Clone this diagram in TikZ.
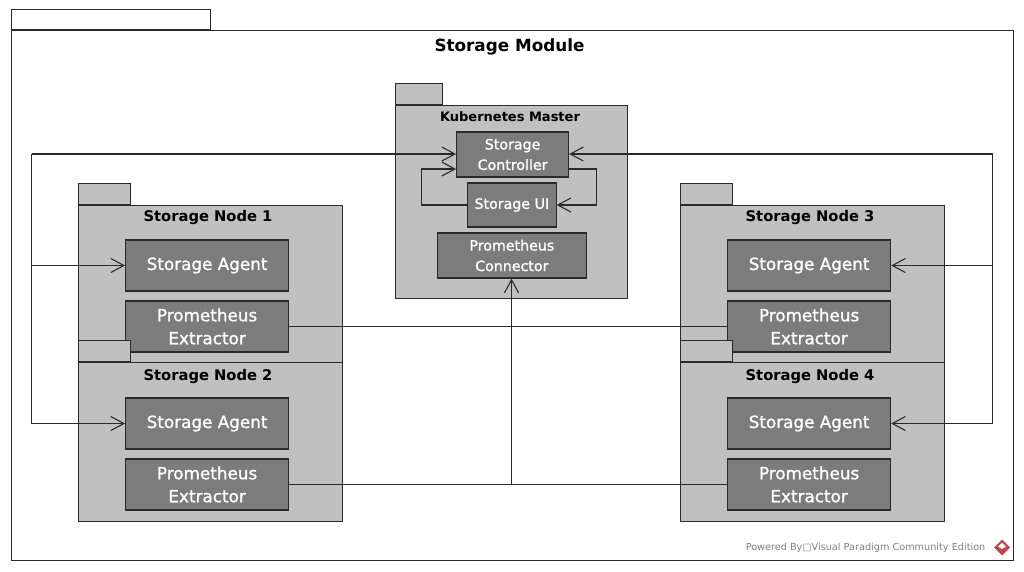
\documentclass[tikz,border=0pt]{standalone}
\usepackage{fontspec}
\setmainfont{DejaVu Sans}
\newfontfamily\semibold[FakeBold=1.2]{DejaVu Sans}
\usetikzlibrary{arrows.meta}
\definecolor{pkg}{HTML}{C0C0C0}
\definecolor{comp}{HTML}{7C7C7C}
\definecolor{ln}{HTML}{2A2A2A}
\definecolor{vpred}{HTML}{C0474F}
\tikzset{
 pkgbody/.style={draw=ln,fill=pkg,line width=1.2pt},
 compbox/.style={draw=ln,fill=comp,line width=1.2pt,text=white,align=center,inner sep=0pt},
 compbig/.style={compbox,font=\fontsize{16.8}{23}\selectfont\semibold},
 compsmall/.style={compbox,font=\fontsize{14.2}{20.5}\selectfont\semibold},
 pkgtitle/.style={font=\fontsize{#1}{#1}\selectfont\bfseries,text=black,inner sep=0pt,anchor=center},
 conn/.style={draw=ln,line width=1.1pt},
 arr/.style={conn,-{Straight Barb[length=13pt,width=14pt,line width=1.1pt]}},
 lbl/.style={inner sep=0pt}
}
\newcommand{\comp}[7]{\node[#7,minimum width=#4pt-#2pt,minimum height=#5pt-#3pt,anchor=north west] (#1) at (#2,#3-.6) {#6};}
\newcommand{\pack}[7]{% name x1 tabright tabtop bodytop x2 y2
 \draw[pkgbody] (#2+.6,#5) rectangle (#3+.6,#4+.6);
 \node[pkgbody,inner sep=0pt,minimum width=#6pt-#2pt,minimum height=#7pt-#5pt,anchor=north west] (#1) at (#2,#5) {};
}
\begin{document}
\begin{tikzpicture}[x=1pt,y=-1pt]
\useasboundingbox (0,0) rectangle (1024,572);
\fill[white] (0,0) rectangle (1024,572);
% outer package
\draw[draw=ln,line width=1.2pt] (11.6,30) rectangle (210.6,9.6);
\node[draw=ln,line width=1.2pt,inner sep=0pt,minimum width=1002pt,minimum height=530pt,anchor=north west] (outer) at (11,30) {};
\node[pkgtitle=16.8] (outert) at (509.5,46.5) {Storage Module};
% Kubernetes master
\pack{kube}{395}{441.5}{83}{105}{627}{298}
\node[pkgtitle=13] (kubet) at (510,117) {Kubernetes Master};
\comp{ctrl}{456}{132}{568}{177}{Storage\\Controller}{compsmall}
\comp{ui}{467}{183}{555.5}{227}{Storage UI}{compsmall}
\comp{pconn}{437}{233}{585.5}{278}{Prometheus\\Connector}{compsmall}
% node 1
\pack{n1}{78}{130}{183}{205}{342}{362}
\node[pkgtitle=14.7] (n1t) at (208,218) {Storage Node 1};
\comp{a1}{125}{240}{288}{291}{Storage Agent}{compbig}
\comp{e1}{125}{301}{288}{352}{Prometheus\\Extractor}{compbig}
% node 2
\pack{n2}{78}{130}{340}{362}{342}{521}
\node[pkgtitle=14.7] (n2t) at (208,376) {Storage Node 2};
\comp{a2}{125}{398}{288}{449}{Storage Agent}{compbig}
\comp{e2}{125}{459}{288}{510}{Prometheus\\Extractor}{compbig}
% node 3
\pack{n3}{680}{732}{183}{205}{944}{362}
\node[pkgtitle=14.7] (n3t) at (810,218) {Storage Node 3};
\comp{a3}{727}{240}{890}{291}{Storage Agent}{compbig}
\comp{e3}{727}{301}{890}{352}{Prometheus\\Extractor}{compbig}
% node 4
\pack{n4}{680}{732}{340}{362}{944}{521}
\node[pkgtitle=14.7] (n4t) at (810,376) {Storage Node 4};
\comp{a4}{727}{398}{890}{449}{Storage Agent}{compbig}
\comp{e4}{727}{459}{890}{510}{Prometheus\\Extractor}{compbig}
% free coordinates of the buses
\coordinate (lbus) at (31.5,154);
\coordinate (rbus) at (992.5,154);
% controller buses
\draw[arr] (lbus) -- (ctrl.west |- lbus);
\draw[arr] (rbus) -- (ctrl.east |- rbus);
\draw[conn] (lbus) -- (lbus |- a2.west);
\draw[conn] (rbus) -- (rbus |- a4.east);
\draw[arr] (lbus |- a1.west) -- (a1.west);
\draw[arr] (lbus |- a2.west) -- (a2.west);
\draw[arr] (rbus |- a3.east) -- (a3.east);
\draw[arr] (rbus |- a4.east) -- (a4.east);
% UI loop
\coordinate (cl) at (ctrl.west |- 0,169);
\coordinate (cr) at (ctrl.east |- 0,169);
\coordinate (lbend) at (421.5,169);
\coordinate (rbend) at (596.5,169);
\draw[arr] (ui.west) -- (lbend |- ui.west) -- (lbend) -- (cl);
\draw[arr] (cr) -- (rbend) -- (rbend |- ui.east) -- (ui.east);
% extractors
\draw[conn] (e1.east) -- (e3.west);
\draw[conn] (e2.east) -- (e4.west);
\coordinate (jn) at (511.5,484.9);
\draw[arr] (jn) -- (pconn.south -| jn);
% watermark
\node[lbl,anchor=east,text=black!50,font=\fontsize{9.7}{10}\selectfont] (wm) at (985.5,548) {Powered By□Visual Paradigm Community Edition};
\fill[vpred] (1002,539.5) -- (1010,547.5) -- (1002,555.5) -- (994,547.5) -- cycle;
\fill[white] (1002,543) -- (1006,546.5) -- (1002,549) -- (998,546.5) -- cycle;
\end{tikzpicture}
\end{document}
